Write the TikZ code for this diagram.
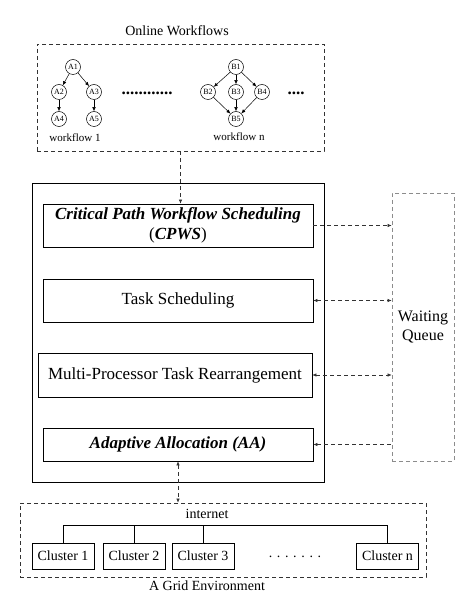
\documentclass[tikz,border=0pt]{standalone}
\usepackage{fontspec}
\setmainfont{Liberation Serif}
\usetikzlibrary{arrows.meta}

\begin{document}
\begin{tikzpicture}[x=1pt, y=-1pt, line width=0.7pt]
	\tikzset{noeud/.style={circle, draw, minimum size=15pt, inner sep=0pt, line width=0.5pt, font=\fontsize{8}{9}\selectfont},
	fleche/.style={line width=0.6pt, >={Latex[length=4pt,width=3.5pt]}},
	pointille/.style={dash pattern=on 4pt off 3pt, draw=black!80},
	module/.style={draw, minimum width=270pt, minimum height=43pt, align=center, inner sep=2pt, font=\fontsize{17}{20}\selectfont},
	cluster/.style={draw, minimum width=62pt, minimum height=26pt, inner sep=1pt, font=\fontsize{14}{16}\selectfont}};
	\useasboundingbox (0,0) rectangle (474,593);

	% online workflows
	\node[draw, pointille, minimum width=287pt, minimum height=107pt] (online) at (180.5,97.5) {};
	\node[font=\fontsize{14}{16}\selectfont] (titre) at (177,31) {Online Workflows};
	\foreach \name/\x/\y in {A1/73/67, A2/59/92, A3/94/92, A4/59/119, A5/94/119,
		B1/236/67, B2/208/92, B3/236/92, B4/262/92, B5/236/119}{
		\node[noeud] (\name) at (\x,\y) {\name};
	}
	\foreach \a/\b in {A1/A2, A1/A3, A2/A4, A3/A5, B1/B2, B1/B3, B1/B4, B2/B5, B3/B5, B4/B5}
		\draw[fleche, ->, line width=0.5pt] (\a) -- (\b);
	\node[font=\fontsize{11}{13}\selectfont] (wf1) at (75,138) {workflow 1};
	\node[font=\fontsize{11}{13}\selectfont] (wfn) at (239,137) {workflow n};
	\node[font=\fontsize{17}{20}\bfseries] (pts1) at (147,93) {............};
	\node[font=\fontsize{17}{20}\bfseries] (pts2) at (296,93) {....};

	% scheduler
	\node[draw, minimum width=292pt, minimum height=299pt] (systeme) at (178,332.5) {};
	\node[module] (cpws) at (178,225.5) {\textbf{\textit{Critical Path Workflow Scheduling}}\\(\textbf{\textit{CPWS}})};
	\node[module] (ts) at (178,300.5) {Task Scheduling};
	\node[module, minimum width=274pt, minimum height=44pt] (mptr) at (175,375) {Multi-Processor Task Rearrangement};
	\node[module, minimum height=33pt] (aa) at (178,444.5) {\textbf{\textit{Adaptive Allocation (AA)}}};
	\node[draw, pointille, draw=black!45, minimum width=62pt, minimum height=268pt, align=center,
		font=\fontsize{16}{19}\selectfont] (wq) at (423,327) {Waiting\\Queue};

	\draw[pointille, fleche, ->] (online.south) -- (online.south |- cpws.north);
	\draw[pointille, fleche, ->] (cpws.east) -- (cpws.east -| wq.west);
	\draw[pointille, fleche, <->] (ts.east) -- (ts.east -| wq.west);
	\draw[pointille, fleche, <->] (mptr.east) -- (mptr.east -| wq.west);
	\draw[pointille, fleche, <-] (aa.east) -- (aa.east -| wq.west);

	% grid
	\node[draw, pointille, minimum width=406pt, minimum height=74pt] (grille) at (223,540) {};
	\draw[pointille, fleche, <->] (aa.south) -- (aa.south |- grille.north);
	\node[font=\fontsize{14}{16}\selectfont] (internet) at (207,514) {internet};
	\foreach \name/\x/\txt in {c1/63/Cluster 1, c2/134/Cluster 2, c3/203/Cluster 3, cn/387.5/Cluster n}{
		\node[cluster] (\name) at (\x,556) {\txt};
	}
	\node[font=\fontsize{14}{16}\selectfont] (pts3) at (295,557) {. . . . . . .};
	\coordinate (bus) at (0,525);
	\draw[line width=0.6pt] (c1.north) -- (c1.north |- bus) -- (cn.north |- bus) -- (cn.north);
	\foreach \name in {c2, c3}
		\draw[line width=0.6pt] (\name.north) -- (\name.north |- bus);
	\node[font=\fontsize{14}{16}\selectfont, inner sep=1pt] (titregrille) at (207,585.5) {A Grid Environment};

\end{tikzpicture}
\end{document}
